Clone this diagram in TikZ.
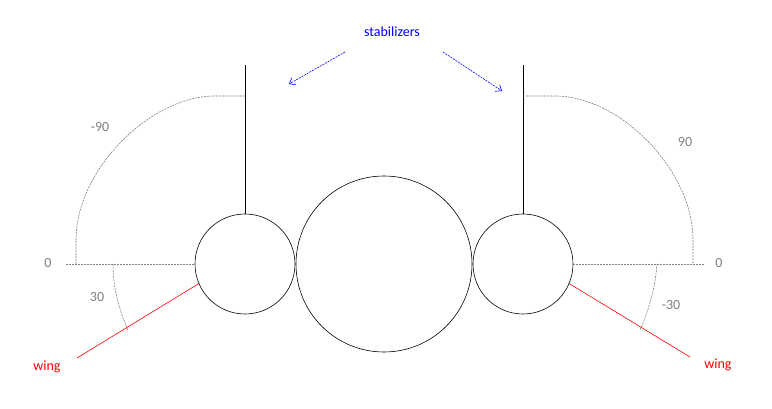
\documentclass[tikz,border=0pt]{standalone}
\usepackage{fontspec}
\setmainfont{Carlito}
\usetikzlibrary{arrows.meta}
\begin{document}
\begin{tikzpicture}[x=1pt,y=-1pt,
  guide/.style={draw=gray,dashed,dash pattern=on 2pt off 1pt,line width=0.6pt},
  lbl/.style={text=gray,font=\fontsize{14}{16}\selectfont},
  winglbl/.style={text=red,font=\fontsize{14}{16}\selectfont},
  stab/.style={draw=blue,dashed,dash pattern=on 2pt off 1pt,line width=0.6pt,-{Straight Barb[length=5pt,width=8pt]}},
  body/.style={draw=black,circle,line width=0.6pt,inner sep=0pt}]
\useasboundingbox (0,0) rectangle (772,409);
\node[body,minimum size=100pt] (lc) at (245,264) {};
\node[body,minimum size=176pt] (mc) at (384,264) {};
\node[body,minimum size=100pt] (rc) at (523,264) {};
\coordinate (ltop) at (245,65);
\coordinate (rtop) at (523,65);
\draw[line width=0.6pt] (lc.north) -- (ltop);
\draw[line width=0.6pt] (rc.north) -- (rtop);
% guides
\draw[guide] (245,96) -- (215,96) .. controls (150,96) and (76,170) .. (76,240) -- (76,264);
\draw[guide] (523,96) -- (555,96) .. controls (620,96) and (693,170) .. (693,240) -- (693,264);
\draw[guide] (66,264) -- (lc.west);
\draw[guide] (rc.east) -- (705,264);
\draw[guide] (113,264) .. controls (113,290) and (120,312) .. (128,330);
\draw[guide] (657,264) .. controls (655,290) and (648,312) .. (640,330);
% wings
\coordinate (lw) at (77,358);
\coordinate (rw) at (690,357);
\draw[red,line width=0.6pt] (lc.203) -- (lw);
\draw[red,line width=0.6pt] (rc.-23) -- (rw);
% labels
\node[lbl] (l0) at (48,263) {0};
\node[lbl] (l90) at (100,127) {-90};
\node[lbl] (l30) at (97,297) {30};
\node[lbl] (r0) at (719,263) {0};
\node[lbl] (r90) at (685,142) {90};
\node[lbl] (r30) at (671,305) {-30};
\node[winglbl] (wl) at (47,367) {wing};
\node[winglbl] (wr) at (718,365) {wing};
\node[text=blue,font=\fontsize{14}{16}\selectfont] (st) at (392,32) {stabilizers};
\coordinate (a1) at (289,84);
\coordinate (a2) at (502,91);
\draw[stab] (345,52) -- (a1);
\draw[stab] (443,52) -- (a2);
\end{tikzpicture}
\end{document}
